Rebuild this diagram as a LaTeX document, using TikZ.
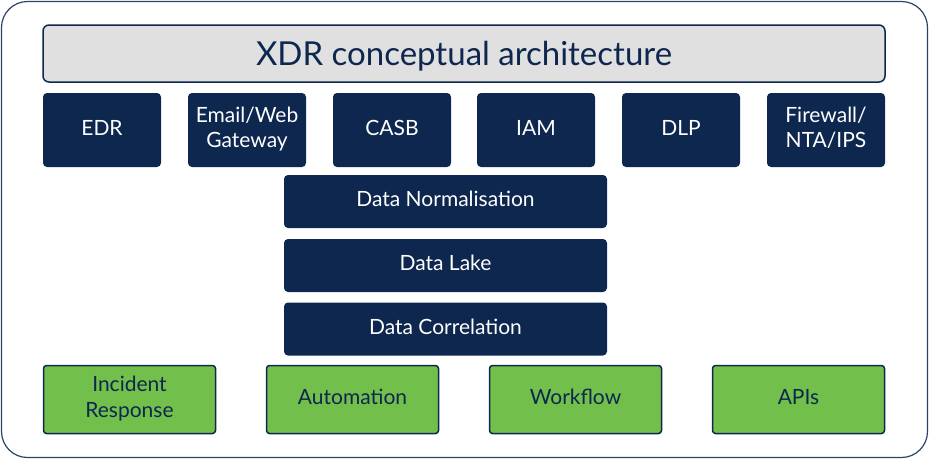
\documentclass[tikz,border=0pt]{standalone}
\usepackage{fontspec}
\setmainfont{Lato}
\definecolor{navy}{HTML}{0E274E}
\definecolor{leaf}{HTML}{72BF4B}
\definecolor{banner}{HTML}{E0E0E0}
\definecolor{frame}{HTML}{2A4466}

\begin{document}
\begin{tikzpicture}[x=1pt,y=-1pt,
    tool/.style={fill=navy,rounded corners=4pt,text=white,minimum width=118pt,minimum height=74pt,inner sep=0pt,text depth=5pt,align=center,font=\fontsize{21}{25}\selectfont},
    layer/.style={fill=navy,rounded corners=4pt,text=white,minimum width=323pt,minimum height=53pt,inner sep=0pt,text depth=5pt,font=\fontsize{21}{25}\selectfont},
    outcome/.style={draw=navy,line width=1.5pt,fill=leaf,rounded corners=3pt,text=navy,minimum width=172pt,minimum height=68pt,inner sep=0pt,text depth=5pt,align=center,font=\fontsize{21}{25.5}\selectfont}]
        \useasboundingbox (0,0) rectangle (929,459);
        \draw[frame,line width=1.2pt,rounded corners=26pt] (1.5,1.5) rectangle (927.5,457.5);
        % title bar
        \node[draw=navy,line width=1.5pt,fill=banner,rounded corners=6pt,minimum width=842pt,minimum height=57pt,inner sep=0pt,text depth=0pt,text=navy,font=\fontsize{33}{36}\selectfont] (title) at (464,53.5) {XDR conceptual architecture};
        % sources
        \node[tool] (edr) at (102,130) {EDR};
        \node[tool] (gateway) at (247,130) {Email/Web\\Gateway};
        \node[tool] (casb) at (392,130) {CASB};
        \node[tool] (iam) at (536,130) {IAM};
        \node[tool] (dlp) at (681,130) {DLP};
        \node[tool] (firewall) at (826,130) {Firewall/\\NTA/IPS};
        % data layers
        \node[layer] (norm) at (445.5,201.5) {Data Normalisation};
        \node[layer] (lake) at (445.5,265.5) {Data Lake};
        \node[layer] (corr) at (445.5,329) {Data Correlation};
        % outcomes
        \node[outcome] (incident) at (129.5,399.5) {Incident\\Response};
        \node[outcome] (automation) at (352.5,399.5) {Automation};
        \node[outcome] (workflow) at (575.5,399.5) {Workflow};
        \node[outcome] (apis) at (798.5,399.5) {APIs};
      \end{tikzpicture}
\end{document}
